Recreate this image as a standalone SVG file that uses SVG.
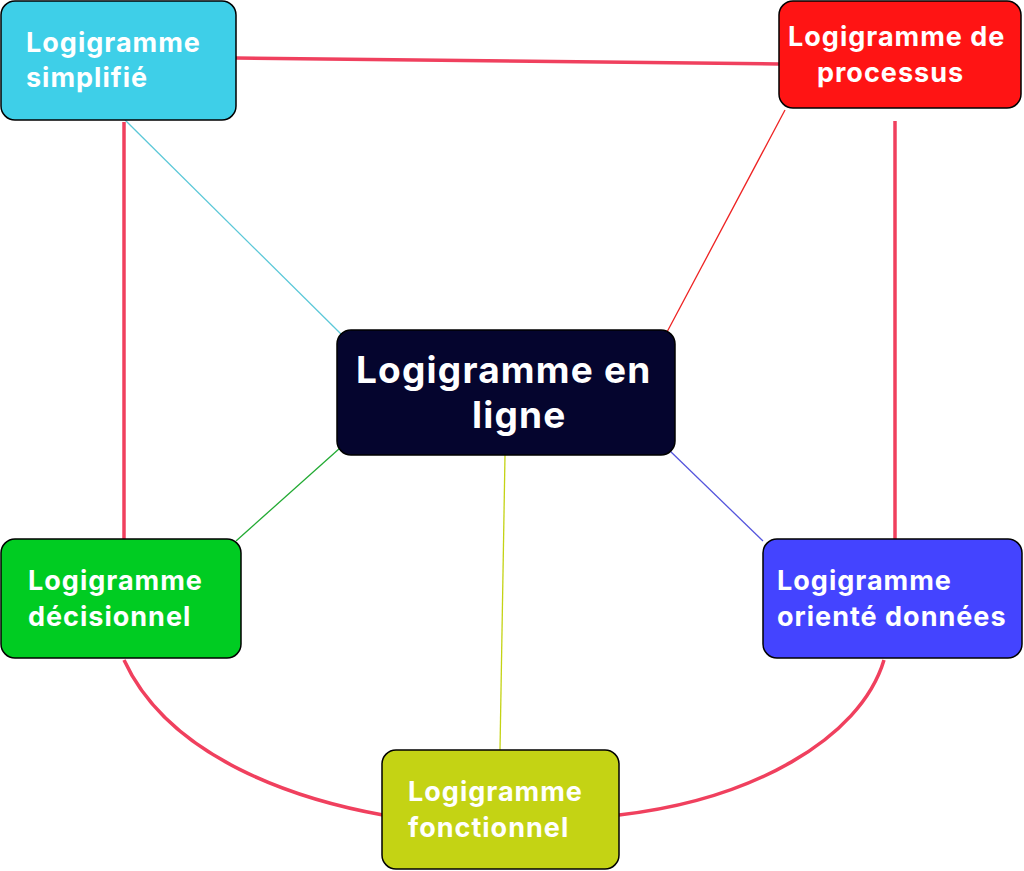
<svg xmlns="http://www.w3.org/2000/svg" width="1024" height="871" viewBox="0 0 1024 871">
<style>
.n{stroke:#000;stroke-width:1.5}
.t{font-family:Inter,"Liberation Sans",sans-serif;font-weight:bold;fill:#fff;font-size:27px;letter-spacing:1px}
.b{font-size:37px;letter-spacing:1.2px}
.c{fill:none;stroke:#f0405e;stroke-width:3.5}
.th{fill:none;stroke-width:1.3}
</style>
<rect width="1024" height="871" fill="#fff"/>
<g id="connectors">
<line class="c" x1="236" y1="58" x2="779" y2="64"/>
<line class="c" x1="124" y1="122" x2="124" y2="539"/>
<line class="c" x1="895" y1="121" x2="895" y2="539"/>
<path class="c" d="M124,660 C170,760 300,800 383,815"/>
<path class="c" d="M619,815 C750,800 860,740 884,660"/>
<line class="th" stroke="#5cc8d8" x1="125" y1="120" x2="342" y2="335"/>
<line class="th" stroke="#ee2222" x1="785" y1="110" x2="667" y2="332"/>
<line class="th" stroke="#22aa33" x1="340" y1="448" x2="236" y2="541"/>
<line class="th" stroke="#5555dd" x1="669" y1="450" x2="763" y2="541"/>
<line class="th" stroke="#c4d314" x1="505" y1="455" x2="500" y2="750"/>
</g>
<g id="simplifie"><rect class="n" x="1" y="1" width="235" height="119" rx="14" fill="#3ecfe8"/>
<text class="t" x="26" y="52">Logigramme</text><text class="t" x="26" y="87">simplifié</text></g>
<g id="processus"><rect class="n" x="779" y="1" width="242" height="107" rx="14" fill="#ff1414"/>
<text class="t" x="788" y="46">Logigramme de</text><text class="t" x="817" y="82">processus</text></g>
<g id="center"><rect class="n" x="337" y="330" width="338" height="125" rx="14" fill="#05052e"/>
<text class="t b" x="356" y="383">Logigramme en</text><text class="t b" x="472" y="428">ligne</text></g>
<g id="decisionnel"><rect class="n" x="1" y="539" width="240" height="119" rx="14" fill="#00cc22"/>
<text class="t" x="28" y="590">Logigramme</text><text class="t" x="28" y="626">décisionnel</text></g>
<g id="oriente"><rect class="n" x="763" y="539" width="259" height="119" rx="14" fill="#4444ff"/>
<text class="t" x="777" y="590">Logigramme</text><text class="t" x="777" y="626">orienté données</text></g>
<g id="fonctionnel"><rect class="n" x="382" y="750" width="237" height="119" rx="14" fill="#c4d314"/>
<text class="t" x="408" y="801">Logigramme</text><text class="t" x="408" y="837">fonctionnel</text></g>
</svg>
